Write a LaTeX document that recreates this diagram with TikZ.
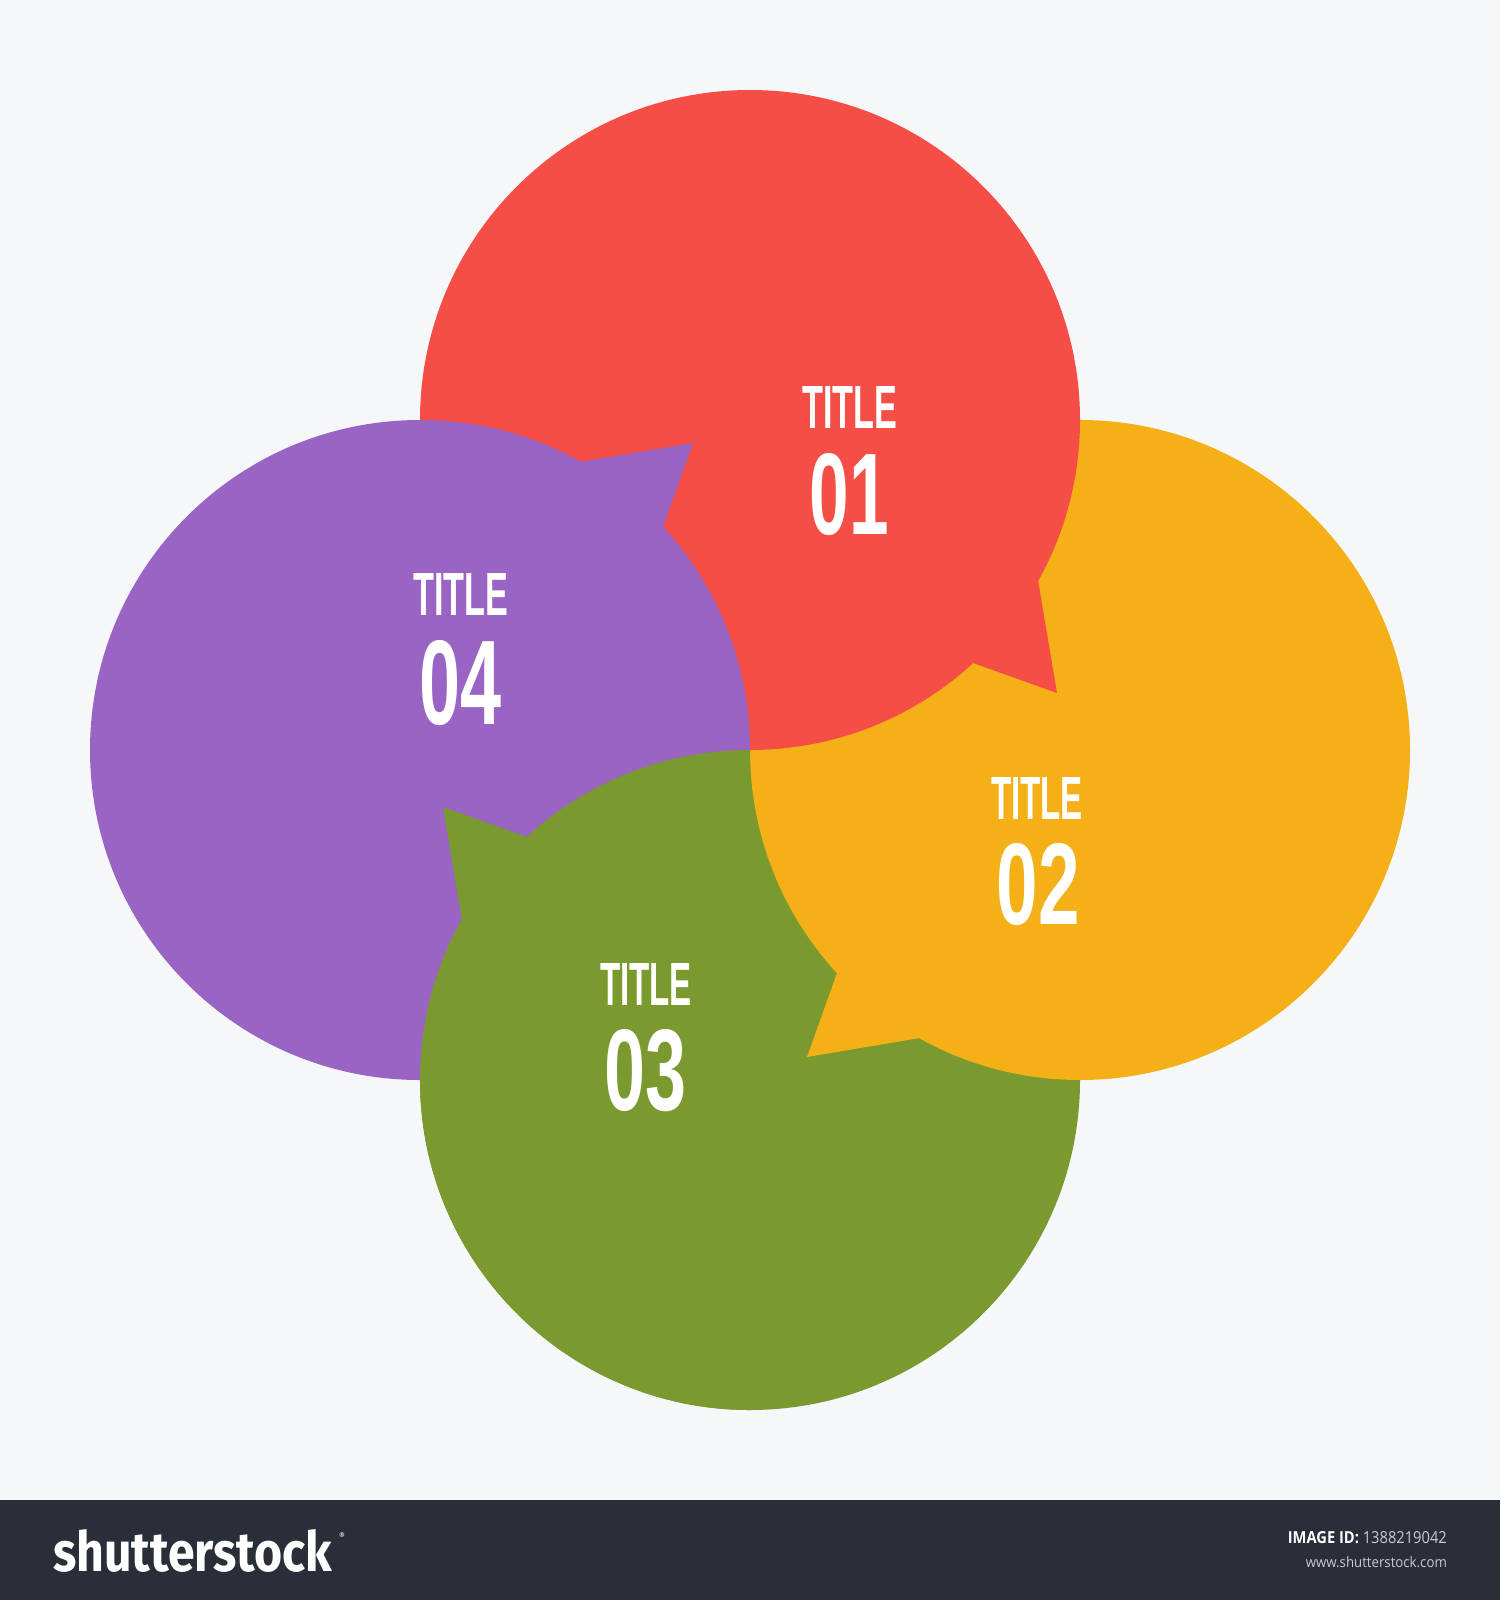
\documentclass[tikz,border=0pt]{standalone}
\usepackage{fontspec}
\setmainfont{Liberation Sans}
\newfontfamily\logofont{Fira Sans}
\newfontfamily\barfont{Open Sans}
\definecolor{bgc}{HTML}{F6F7F9}
\definecolor{redc}{HTML}{F44E46}
\definecolor{yelc}{HTML}{F4B016}
\definecolor{grnc}{HTML}{7A992E}
\definecolor{purc}{HTML}{9964C4}
\definecolor{barc}{HTML}{292E39}
\definecolor{idgray}{HTML}{C9CBCF}
\tikzset{
  lbl/.style={inner sep=0pt, text=white, font=\bfseries},
  bartext/.style={inner sep=0pt, anchor=east, font=\barfont}
}
\begin{document}
\begin{tikzpicture}[x=1pt,y=-1pt]
\fill[bgc] (0,0) rectangle (1500,1600);
\useasboundingbox (0,0) rectangle (1500,1600);
% centres
\coordinate (Rc) at (750,420);
\coordinate (Yc) at (1080,750);
\coordinate (Gc) at (750,1080);
\coordinate (Pc) at (420,750);
% tails
\coordinate (R1) at (1038,580); \coordinate (R2) at (1057,693); \coordinate (R3) at (973,663);
\coordinate (Y1) at (920,1038); \coordinate (Y2) at (807,1057); \coordinate (Y3) at (837,973);
\coordinate (G1) at (462,920);  \coordinate (G2) at (443,807);  \coordinate (G3) at (527,837);
\coordinate (P1) at (580,462);  \coordinate (P2) at (693,443);  \coordinate (P3) at (663,527);
% green
\fill[grnc] (Gc) circle[radius=330pt];
\fill[grnc] (G1) -- (G2) -- (G3) -- cycle;
% yellow
\fill[yelc] (Yc) circle[radius=330pt];
\fill[yelc] (Y1) -- (Y2) -- (Y3) -- cycle;
% red
\fill[redc] (Rc) circle[radius=330pt];
\fill[redc] (R1) -- (R2) -- (R3) -- cycle;
% purple
\fill[purc] (Pc) circle[radius=330pt];
\fill[purc] (P1) -- (P2) -- (P3) -- cycle;
% green again over purple
\begin{scope}
\clip (0,740) rectangle (750,1500);
\fill[grnc] (Gc) circle[radius=330pt];
\fill[grnc] (G1) -- (G2) -- (G3) -- cycle;
\end{scope}
% labels
\node[lbl] (t1) at (850,407) {\resizebox{95pt}{42pt}{TITLE}};
\node[lbl] (n1) at (849,495) {\resizebox{79pt}{81pt}{01}};
\node[lbl] (t2) at (1037,798) {\resizebox{92pt}{42pt}{TITLE}};
\node[lbl] (n2) at (1038,885) {\resizebox{83pt}{81pt}{02}};
\node[lbl] (t3) at (646,984) {\resizebox{92pt}{42pt}{TITLE}};
\node[lbl] (n3) at (646,1071) {\resizebox{82pt}{81pt}{03}};
\node[lbl] (t4) at (461,594) {\resizebox{95pt}{42pt}{TITLE}};
\node[lbl] (n4) at (461,683) {\resizebox{82pt}{84pt}{04}};
% bottom bar
\fill[barc] (0,1500) rectangle (1500,1600);
\node[inner sep=0pt, anchor=west, text=white, font=\logofont\bfseries] (logo) at (53,1551) {\resizebox{279pt}{42pt}{shutterstock}};
\node[inner sep=0pt, text=white, font=\logofont\fontsize{9pt}{9pt}\selectfont] (reg) at (342,1536) {®};
\node[bartext, text=white] (imgid) at (1447,1538) {\resizebox{159pt}{12pt}{\textbf{IMAGE ID:} \textcolor{idgray}{1388219042}}};
\node[bartext, text=idgray] (www) at (1447,1562) {\resizebox{141pt}{11pt}{www.shutterstock.com}};
\end{tikzpicture}
\end{document}
